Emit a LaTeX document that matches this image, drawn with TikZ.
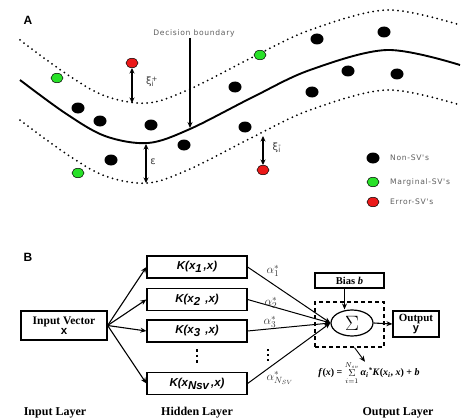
\documentclass[tikz,border=0pt]{standalone}
\usepackage{fontspec}
\setmainfont{Liberation Serif}
\setsansfont{Liberation Sans}
\newfontfamily\legfont[LetterSpace=9]{DejaVu Sans}
\newfontfamily\gkfont{DejaVu Sans}
\usetikzlibrary{arrows.meta,shapes.geometric}
\definecolor{svgreen}{RGB}{40,225,40}
\definecolor{svred}{RGB}{235,25,25}
\definecolor{txtgray}{RGB}{95,95,95}
\definecolor{agray}{RGB}{55,55,55}
\newsavebox{\fmlbox}
\begin{document}
\sbox{\fmlbox}{\fontsize{10}{10}\selectfont\textbf{\textit{f}(\textit{x}) = }$\mathop{\Sigma}\limits_{i=1}^{N_{sv}}$\,\textbf{\textit{α\textsubscript{i}\textsuperscript{*}K}(\textit{x\textsubscript{i}}, \textit{x}) + \textit{b}}}%
\begin{tikzpicture}[x=1pt,y=-1pt,
  curve/.style={line width=1.9pt},
  dotcurve/.style={line width=2pt, dash pattern=on 0pt off 5pt, line cap=round},
  blackdot/.style={ellipse, fill=black, minimum width=13pt, minimum height=11pt, inner sep=0pt},
  greendot/.style={ellipse, draw=black, line width=0.5pt, fill=svgreen, minimum width=12pt, minimum height=9.5pt, inner sep=0pt},
  reddot/.style={ellipse, draw=black, line width=0.5pt, fill=svred, minimum width=12pt, minimum height=9.5pt, inner sep=0pt},
  atext/.style={font=\legfont\fontsize{7.6}{9}\selectfont, text=txtgray, inner sep=1pt},
  gtext/.style={font=\gkfont\fontsize{10}{10}\selectfont, text=agray, inner sep=1pt},
  dblarr/.style={line width=1.1pt, {Stealth[length=5.5pt,width=5pt]}-{Stealth[length=5.5pt,width=5pt]}},
  sarr/.style={line width=1.1pt, -{Stealth[length=6pt,width=5pt]}},
  bbox/.style={draw, line width=1.2pt, inner sep=0pt, align=center},
  barr/.style={line width=1.1pt, -{Stealth[length=6pt,width=5pt]}},
  btext/.style={font=\bfseries\fontsize{12}{12}\selectfont},
  ktext/.style={font=\sffamily\bfseries\itshape\fontsize{11.5}{11.5}\selectfont},
  alab/.style={text=agray, font=\fontsize{13}{13}\selectfont, inner sep=0pt}
]
\path[use as bounding box, fill=white] (0,0) rectangle (474,420);

% ---------- Part A ----------
\node[font=\sffamily\bfseries\fontsize{12}{12}\selectfont] (lA) at (28,20) {A};

\draw[curve] plot[smooth,tension=0.55] coordinates {(20,80) (65,113) (105,136) (148,143) (190,129) (253,97) (310,70) (387,50) (460,65)};
\begin{scope}[yshift=40pt]
\draw[dotcurve] plot[smooth,tension=0.55] coordinates {(20,80) (65,113) (105,136) (148,143) (190,129) (253,97) (310,70) (387,50) (460,65)};
\end{scope}
\begin{scope}[yshift=-40pt]
\draw[dotcurve] plot[smooth,tension=0.55] coordinates {(20,80) (65,113) (105,136) (148,143) (190,129) (253,97) (310,70) (387,50) (460,65)};
\end{scope}

\node[atext] (db) at (194,33) {Decision boundary};
\coordinate (dbend) at (190,128);
\draw[sarr] (db.south -| dbend) -- (dbend);

% non-SV points
\foreach \p/\q [count=\i] in {78/108, 100/121, 151/125, 111/160, 184/145, 235/87, 245/127, 317/39, 384/32, 348/71, 397/74, 312/92}
  \node[blackdot] (n\i) at (\p,\q) {};
% marginal SVs
\node[greendot] (g1) at (57,78) {};
\node[greendot] (g2) at (78,173) {};
\node[greendot] (g3) at (260,55) {};
% error SVs
\node[reddot] (r1) at (132,63) {};
\node[reddot] (r2) at (263,170) {};

% slack arrows
\coordinate (xp) at (132,103);
\draw[dblarr] (r1.south) -- (xp);
\node[gtext] (xpl) at (152,82) {ξ\textsubscript{i}\kern-2.5pt\textsuperscript{+}};
\coordinate (e1) at (146,144);
\coordinate (e2) at (146,183);
\draw[dblarr] (e1) -- (e2);
\node[gtext] (epl) at (153,162) {ε};
\coordinate (xm) at (263,136);
\draw[dblarr] (xm) -- (r2.north);
\node[gtext] (xml) at (277,148) {ξ\textsubscript{i}\kern-2.5pt\textsuperscript{-}};

% legend
\node[blackdot] (L1) at (373,158) {};
\node[greendot] (L2) at (373,182) {};
\node[reddot] (L3) at (373,202) {};
\node[atext, anchor=west] (L1t) at (389,158) {Non-SV's};
\node[atext, anchor=west] (L2t) at (389,182) {Marginal-SV's};
\node[atext, anchor=west] (L3t) at (389,202) {Error-SV's};

% ---------- Part B ----------
\node[font=\sffamily\bfseries\fontsize{12}{12}\selectfont] (lB) at (28,257) {B};

\node[bbox, minimum width=86pt, minimum height=29pt, font=\bfseries\fontsize{11.5}{10}\selectfont] (inp) at (64,325.5) {Input Vector\\{\sffamily x}};

\node[bbox, minimum width=100pt, minimum height=22pt, ktext] (h1) at (197,267) {K(x\raisebox{-3pt}{1}\,,x)};
\node[bbox, minimum width=100pt, minimum height=22pt, ktext] (h2) at (197,299.5) {K(x\raisebox{-3pt}{2}\, ,x)};
\node[bbox, minimum width=100pt, minimum height=22pt, ktext] (h3) at (197,331) {K(x\raisebox{-3pt}{3}\, ,x)};
\node[bbox, minimum width=100pt, minimum height=22pt, ktext] (h4) at (197,383.5) {K(x\raisebox{-3pt}{Nsv}\,,x)};

\draw[line width=2.5pt, dash pattern=on 2.5pt off 3pt] (197,349) -- (197,365);
\draw[line width=1.6pt, dash pattern=on 2pt off 3pt] (268,349) -- (268,362);

\foreach \h in {h1,h2,h3,h4}
  \draw[barr] (inp.east) -- (\h.west);

\node[draw, ellipse, line width=1.2pt, minimum width=42pt, minimum height=26pt, inner sep=0pt] (sum) at (352,323) {\fontsize{20}{20}\selectfont$\Sigma$};
\node[draw, line width=1.2pt, minimum width=69pt, minimum height=45pt, dash pattern=on 4pt off 3pt] (dbox) at (349.5,324.5) {};
\node[bbox, minimum width=69pt, minimum height=15pt, font=\bfseries\fontsize{10.5}{10}\selectfont] (bias) at (349.5,280.5) {Bias \textit{b}};
\node[bbox, minimum width=46pt, minimum height=26pt, font=\bfseries\fontsize{11}{10}\selectfont] (out) at (416,324) {Output\\{\sffamily y}};

\foreach \h in {h1,h2,h3,h4}
  \draw[barr, line width=1pt] (\h.east) -- (sum.west);

\node[alab] (a1) at (273,271) {$\alpha_1^{*}$};
\node[alab] (a2) at (271,303) {$\alpha_2^{*}$};
\node[alab] (a3) at (270,322) {$\alpha_3^{*}$};
\node[alab] (a4) at (280,378) {$\alpha_{N_{SV}}^{*}$};

\draw[barr] ([xshift=-5pt]bias.south) -- ([xshift=-5pt]bias.south |- sum.north);
\draw[barr] (sum.east) -- (out.west);

\node[inner sep=0pt] (fml) at (369,373) {\usebox{\fmlbox}};
\draw[barr, line width=0.9pt] ([xshift=5pt]dbox.south) -- ([xshift=-4pt]fml.north);

\node[btext] (il) at (55,413) {Input Layer};
\node[btext] (hl) at (197,413) {Hidden Layer};
\node[btext] (ol) at (398,413) {Output Layer};
\end{tikzpicture}
\end{document}
